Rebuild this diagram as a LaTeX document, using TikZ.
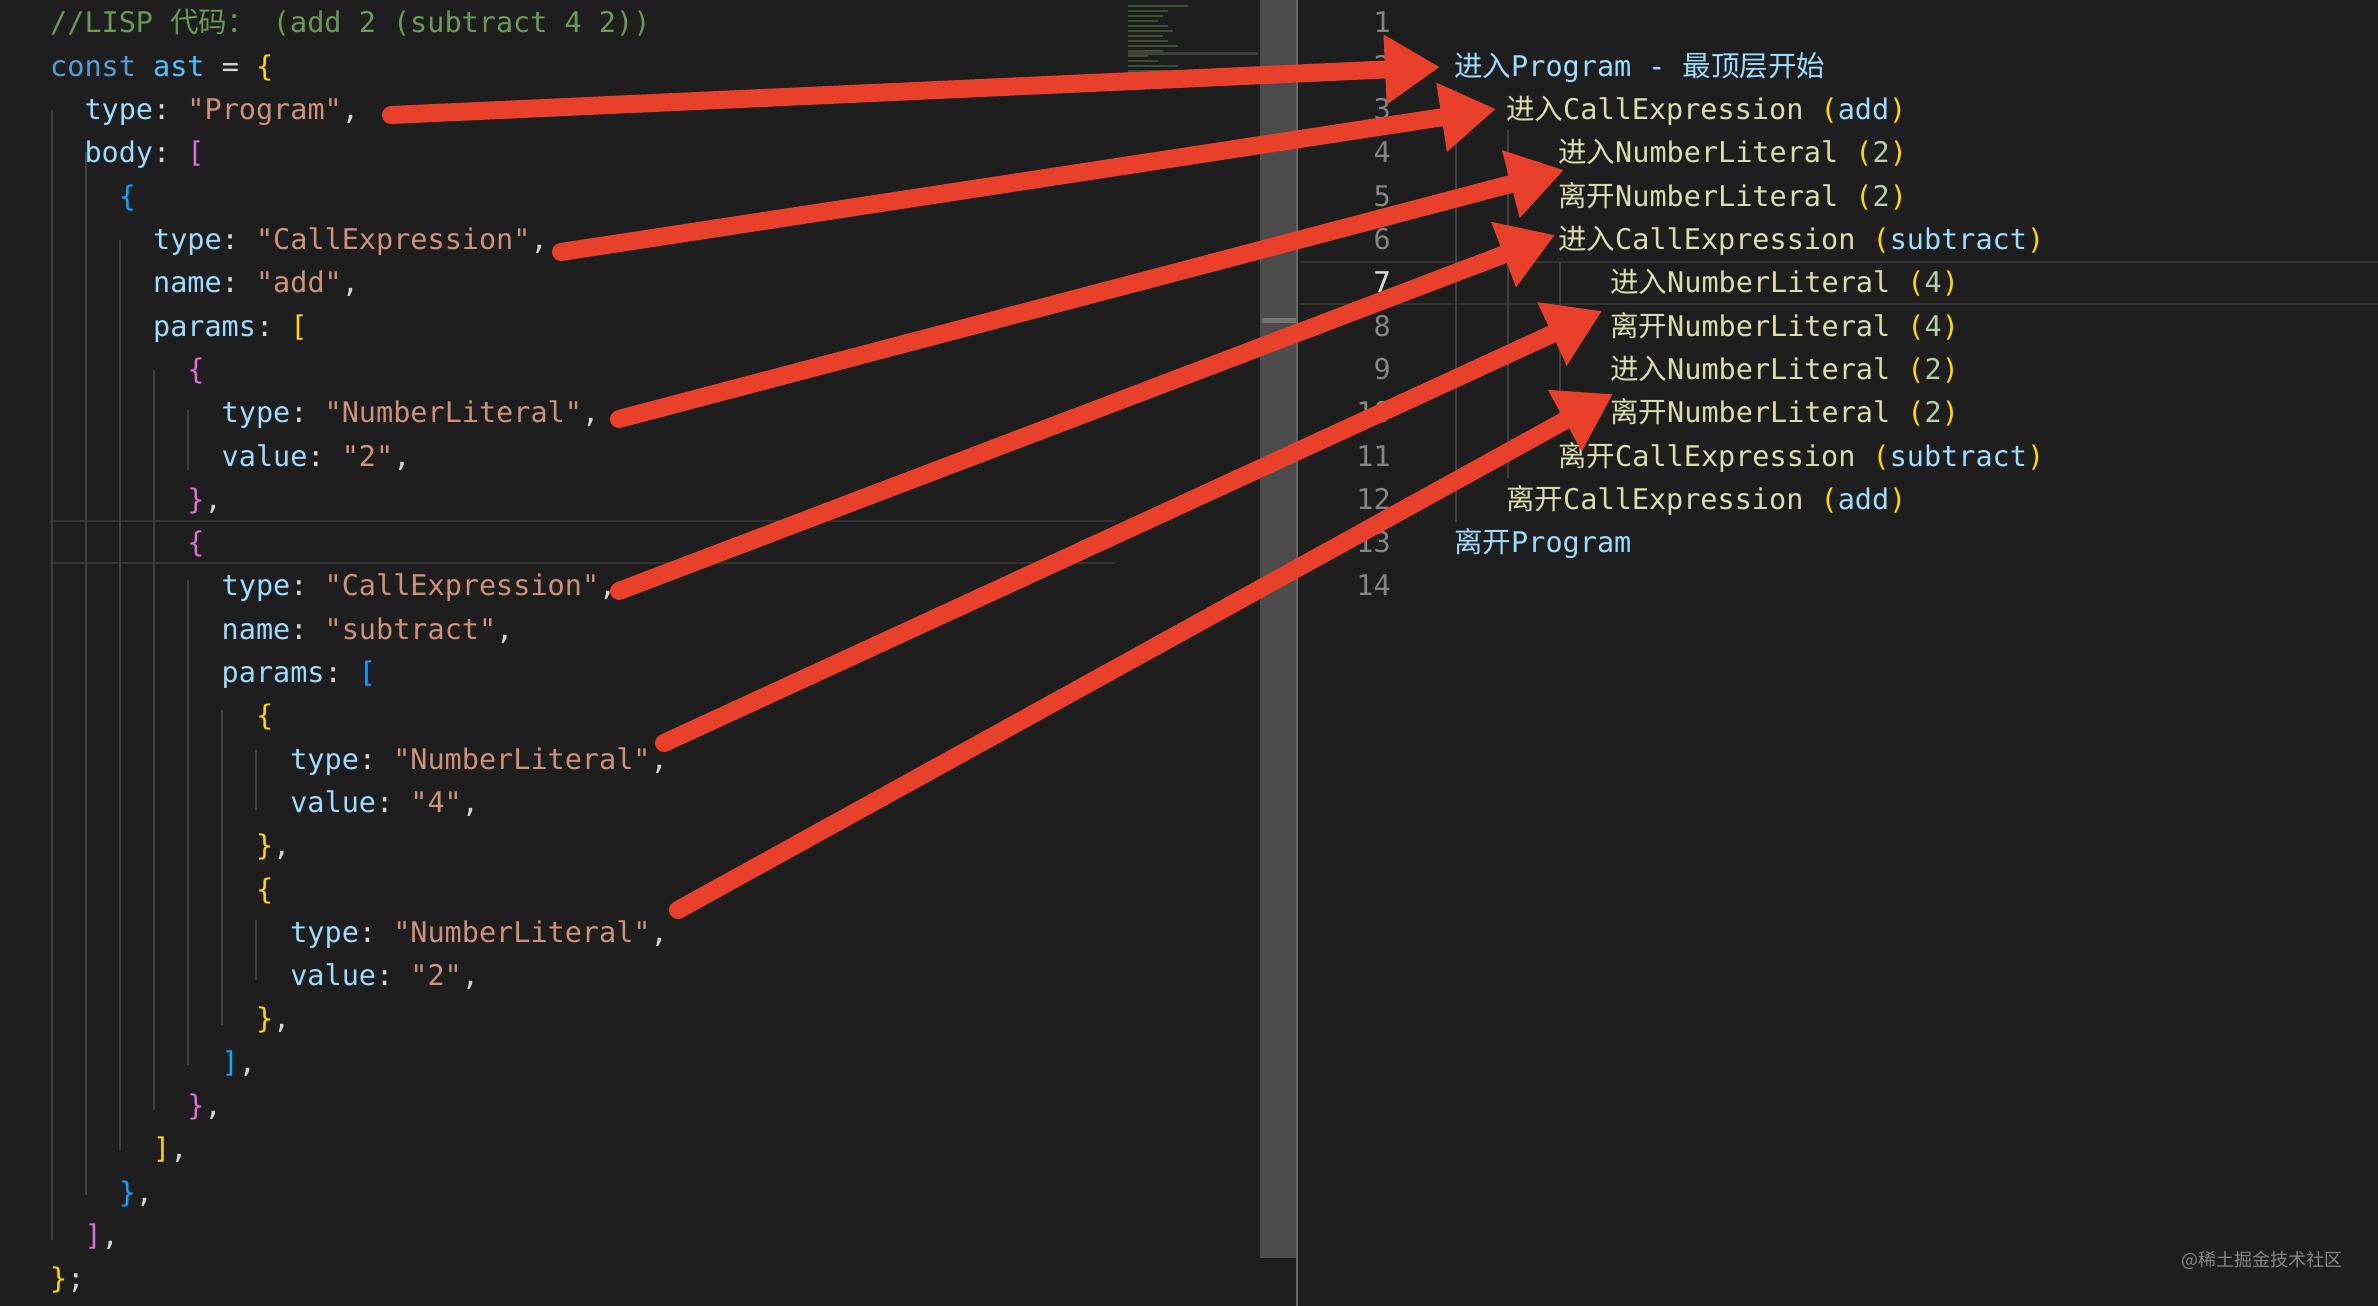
\documentclass[tikz,border=0pt]{standalone}
\usepackage{fontspec}
\setmonofont{DejaVu Sans Mono}
\newfontfamily\cjk{Noto Sans CJK SC}
\usetikzlibrary{arrows.meta}
\definecolor{bg}{HTML}{1E1E1E}
\definecolor{cmt}{HTML}{6A9955}
\definecolor{kw}{HTML}{569CD6}
\definecolor{var}{HTML}{4FC1FF}
\definecolor{key}{HTML}{9CDCFE}
\definecolor{str}{HTML}{CE9178}
\definecolor{yel}{HTML}{FFD700}
\definecolor{pnk}{HTML}{DA70D6}
\definecolor{blu}{HTML}{179FFF}
\definecolor{fn}{HTML}{DCDCAA}
\definecolor{num}{HTML}{B5CEA8}
\definecolor{lnum}{HTML}{858585}
\definecolor{guide}{HTML}{404040}
\definecolor{arr}{HTML}{E8402A}
\definecolor{txt}{HTML}{D4D4D4}
\tikzset{
 code/.style={anchor=base west,inner sep=0pt,font=\ttfamily\fontsize{28.5}{28.5}\selectfont,text=txt},
 lno/.style={anchor=base east,inner sep=0pt,font=\ttfamily\fontsize{28.5}{28.5}\selectfont,text=lnum},
 redarrow/.style={draw=arr,line width=18pt,line cap=round,-{Triangle[length=55pt,width=66pt]}},
 gl/.style={draw=guide,line width=1.5pt}
}
\newcommand{\K}[1]{\textcolor{key}{#1}}
\newcommand{\St}[1]{\textcolor{str}{#1}}
\newcommand{\C}[2]{\textcolor{#1}{#2}}
\begin{document}
\begin{tikzpicture}[x=1pt,y=-1pt]
\fill[bg] (0,0) rectangle (2378,1306);
\useasboundingbox (0,0) rectangle (2378,1306);
% highlight lines
\draw[draw=black!80!white,line width=1.5pt] (50,521) -- (1115,521) (50,563) -- (1115,563);
\draw[draw=black!80!white,line width=1.5pt] (1300,262) -- (2378,262) (1300,304) -- (2378,304);
% scrollbar and divider
\fill[black!70!white] (1260,0) rectangle (1297,1258);
\fill[black!55!white] (1262,318) rectangle (1297,323);
\draw[black!60!white,line width=2pt] (1297,0) -- (1297,1306);
% minimap hints
\foreach \i/\w in {0/60,1/40,2/35,3/30,4/40,5/45,6/35,7/40,8/50,9/35,10/20,11/30,12/50,13/45,14/40} {
 \fill[cmt!40!bg] (1128,{5+\i*5}) rectangle ++(\w,2);}
\fill[black!75!white] (1128,52) rectangle (1258,55);
% indent guides left
\draw[gl] (52,110) -- (52,1240);
\draw[gl] (86,152) -- (86,1195);
\draw[gl] (120,240) -- (120,1150);
\draw[gl] (154,370) -- (154,1110);
\draw[gl] (188,410) -- (188,470) (188,580) -- (188,1065);
\draw[gl] (222,710) -- (222,1025);
\draw[gl] (256,750) -- (256,810) (256,920) -- (256,980);
% indent guides right
\draw[gl] (1456,90) -- (1456,522);
\draw[gl] (1508,130) -- (1508,478);
\draw[gl] (1560,262) -- (1560,434);
% left code
\def\L#1#2#3{\node[code] (c#1) at ({50+34.3*#2},{33+43.3*(#1-1)}) {#3};}
\L{1}{0}{\C{cmt}{//LISP {\cjk 代码：} (add 2 (subtract 4 2))}}
\L{2}{0}{\C{kw}{const} \C{var}{ast} = \C{yel}{\{}}
\L{3}{1}{\K{type}: \St{"Program"},}
\L{4}{1}{\K{body}: \C{pnk}{[}}
\L{5}{2}{\C{blu}{\{}}
\L{6}{3}{\K{type}: \St{"CallExpression"},}
\L{7}{3}{\K{name}: \St{"add"},}
\L{8}{3}{\K{params}: \C{yel}{[}}
\L{9}{4}{\C{pnk}{\{}}
\L{10}{5}{\K{type}: \St{"NumberLiteral"},}
\L{11}{5}{\K{value}: \St{"2"},}
\L{12}{4}{\C{pnk}{\}},}
\L{13}{4}{\C{pnk}{\{}}
\L{14}{5}{\K{type}: \St{"CallExpression"},}
\L{15}{5}{\K{name}: \St{"subtract"},}
\L{16}{5}{\K{params}: \C{blu}{[}}
\L{17}{6}{\C{yel}{\{}}
\L{18}{7}{\K{type}: \St{"NumberLiteral"},}
\L{19}{7}{\K{value}: \St{"4"},}
\L{20}{6}{\C{yel}{\}},}
\L{21}{6}{\C{yel}{\{}}
\L{22}{7}{\K{type}: \St{"NumberLiteral"},}
\L{23}{7}{\K{value}: \St{"2"},}
\L{24}{6}{\C{yel}{\}},}
\L{25}{5}{\C{blu}{]},}
\L{26}{4}{\C{pnk}{\}},}
\L{27}{3}{\C{yel}{]},}
\L{28}{2}{\C{blu}{\}},}
\L{29}{1}{\C{pnk}{]},}
\L{30}{0}{\C{yel}{\}};}
% right panel
\foreach \n in {1,...,14} {\node[lno] (n\n) at (1391,{33+43.3*(\n-1)}) {\n};}
\node[lno,text=txt!90!white] at (1391,{33+43.3*6}) {7};
\def\R#1#2#3{\node[code] (r#1) at ({1454+52*#2},{33+43.3*(#1-1)}) {#3};}
\def\ent{{\cjk 进入}}\def\lea{{\cjk 离开}}
\R{2}{0}{\C{key}{\ent Program - {\cjk 最顶层开始}}}
\R{3}{1}{\C{fn}{\ent CallExpression} \C{yel}{(}\K{add}\C{yel}{)}}
\R{4}{2}{\C{fn}{\ent NumberLiteral} \C{yel}{(}\C{num}{2}\C{yel}{)}}
\R{5}{2}{\C{fn}{\lea NumberLiteral} \C{yel}{(}\C{num}{2}\C{yel}{)}}
\R{6}{2}{\C{fn}{\ent CallExpression} \C{yel}{(}\K{subtract}\C{yel}{)}}
\R{7}{3}{\C{fn}{\ent NumberLiteral} \C{yel}{(}\C{num}{4}\C{yel}{)}}
\R{8}{3}{\C{fn}{\lea NumberLiteral} \C{yel}{(}\C{num}{4}\C{yel}{)}}
\R{9}{3}{\C{fn}{\ent NumberLiteral} \C{yel}{(}\C{num}{2}\C{yel}{)}}
\R{10}{3}{\C{fn}{\lea NumberLiteral} \C{yel}{(}\C{num}{2}\C{yel}{)}}
\R{11}{2}{\C{fn}{\lea CallExpression} \C{yel}{(}\K{subtract}\C{yel}{)}}
\R{12}{1}{\C{fn}{\lea CallExpression} \C{yel}{(}\K{add}\C{yel}{)}}
\R{13}{0}{\C{key}{\lea Program}}
% arrows
\coordinate (s1) at (391,115); \coordinate (e1) at (1440,67);
\coordinate (s2) at (561,252); \coordinate (e2) at (1496,109);
\coordinate (s3) at (619,419); \coordinate (e3) at (1564,170);
\coordinate (s4) at (619,591); \coordinate (e4) at (1555,235);
\coordinate (s5) at (664,743); \coordinate (e5) at (1602,311);
\coordinate (s6) at (678,910); \coordinate (e6) at (1613,394);
\foreach \i in {1,...,6} {\draw[redarrow] (s\i) -- (e\i);}
\node[anchor=base east,inner sep=0pt,text=lnum,font=\cjk\fontsize{18}{18}\selectfont] (wm) at (2343,1266) {@稀土掘金技术社区};
\end{tikzpicture}
\end{document}
